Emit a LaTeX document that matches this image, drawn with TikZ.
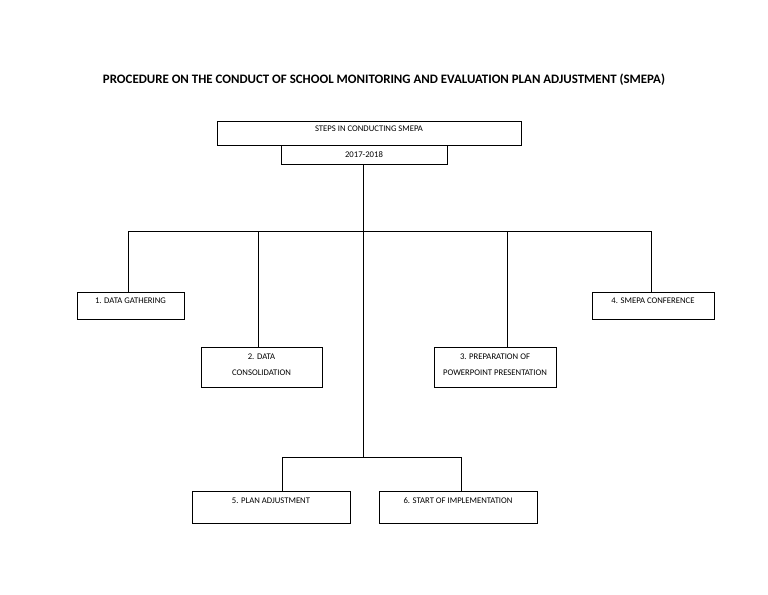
\documentclass[tikz,border=0pt]{standalone}
\usepackage{fontspec}
\setmainfont{Carlito}
\begin{document}
\begin{tikzpicture}[x=0.03cm, y=-0.03cm, thin,
box_style/.style={draw=black, inner sep=0pt, align=center, font=\fontsize{7.4}{13.5}\selectfont},
high_style/.style={text depth=9pt},
edge_style/.style={draw=black}]
\useasboundingbox (0,0) rectangle (768,594);
\node[font=\fontsize{11}{13}\selectfont\bfseries] (title) at (384,80) {PROCEDURE ON THE CONDUCT OF SCHOOL MONITORING AND EVALUATION PLAN ADJUSTMENT (SMEPA)};
\node[box_style, high_style, text depth=7pt, minimum width=304*0.03cm, minimum height=24*0.03cm] (steps) at (369,133) {STEPS IN CONDUCTING SMEPA};
\node[box_style, minimum width=166*0.03cm, minimum height=19*0.03cm, anchor=north] (year) at (364,145) {2017-2018};
\node[box_style, high_style, minimum width=107*0.03cm, minimum height=27*0.03cm] (s1) at (130.5,305.5) {1. DATA GATHERING};
\node[box_style, text depth=3.5pt, minimum width=121*0.03cm, minimum height=40*0.03cm] (s2) at (261.5,367) {2. DATA\\CONSOLIDATION};
\node[box_style, text depth=3.5pt, minimum width=122*0.03cm, minimum height=40*0.03cm] (s3) at (495,367) {3. PREPARATION OF\\POWERPOINT PRESENTATION};
\node[box_style, high_style, minimum width=122*0.03cm, minimum height=27*0.03cm] (s4) at (653,305.5) {4. SMEPA CONFERENCE};
\node[box_style, high_style, text depth=11pt, minimum width=158*0.03cm, minimum height=32*0.03cm] (s5) at (271,507) {5. PLAN ADJUSTMENT};
\node[box_style, high_style, text depth=11pt, minimum width=158*0.03cm, minimum height=32*0.03cm] (s6) at (458,507) {6. START OF IMPLEMENTATION};
\coordinate (top) at (363,231);
\coordinate (low) at (363,457);
\draw[edge_style] (year.south -| top) -- (low);
\draw[edge_style] (128,231) -- (651,231);
\draw[edge_style] (128,231) -- (s1.north -| 128,0);
\draw[edge_style] (258,231) -- (s2.north -| 258,0);
\draw[edge_style] (507,231) -- (s3.north -| 507,0);
\draw[edge_style] (651,231) -- (s4.north -| 651,0);
\draw[edge_style] (282,457) -- (461,457);
\draw[edge_style] (282,457) -- (s5.north -| 282,0);
\draw[edge_style] (461,457) -- (s6.north -| 461,0);
\end{tikzpicture}
\end{document}
